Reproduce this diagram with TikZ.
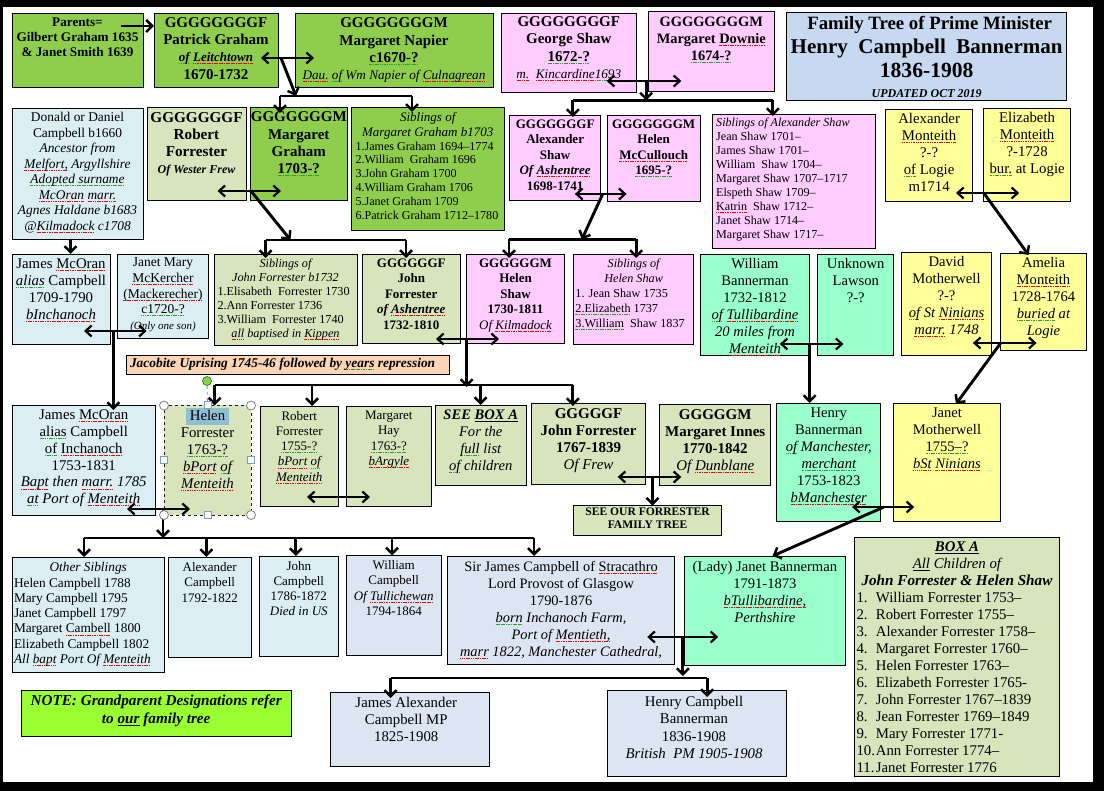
\documentclass[tikz,border=0pt]{standalone}
\usepackage{fontspec}
\setmainfont{Liberation Serif}
\usetikzlibrary{arrows.meta}
\definecolor{cgreen}{HTML}{8FCE4C}
\definecolor{cpink}{HTML}{FFCCFF}
\definecolor{ctitle}{HTML}{C6D9F1}
\definecolor{csky}{HTML}{DAEEF3}
\definecolor{cslate}{HTML}{DCE6F2}
\definecolor{colive}{HTML}{D8E4BC}
\definecolor{caqua}{HTML}{99FFCC}
\definecolor{cyell}{HTML}{FFFF99}
\definecolor{cpeach}{HTML}{FBD5B5}
\definecolor{clime}{HTML}{99FF33}
\definecolor{csel}{HTML}{8FBFD0}
\definecolor{cspg}{HTML}{2E9E2E}
\definecolor{chand}{HTML}{7F9DB9}
\newsavebox\sqbox
\newcommand\sqmark[2]{\begingroup\sbox\sqbox{#2}\leavevmode\rlap{\raisebox{-2.4pt}{\textcolor{#1}{\hbox to\wd\sqbox{\xleaders\hbox{\rule{1.2pt}{.75pt}\kern.5pt}\hfill}}}}\usebox\sqbox\endgroup}
\newcommand\rsq[1]{\sqmark{red}{#1}}
\newcommand\gsq[1]{\sqmark{cspg}{#1}}
\newcommand\ulin[1]{\begingroup\sbox\sqbox{#1}\leavevmode\rlap{\rule[-1.8pt]{\wd\sqbox}{.8pt}}\usebox\sqbox\endgroup}
\newcommand\fs[2]{\fontsize{#1}{#2}\selectfont}
\newcommand\famb[8]{\node[famnode,#6] (#1) at ({(#2+#4)/2},{(#3+#5)/2}) {\parbox[c][\dimexpr #5pt-#3pt\relax][t]{\dimexpr #4pt-#2pt\relax}{\vspace*{#7pt}\centering #8}};}
\newcommand\lft[1]{\raggedright\leftskip=#1pt\relax}
\newcommand\nm[1]{\makebox[19.4pt][l]{#1}}
\tikzset{
 famnode/.style={draw=black,line width=.9pt,inner sep=0pt,outer sep=0pt},
 fgreen/.style={fill=cgreen}, fpink/.style={fill=cpink}, ftitle/.style={fill=ctitle},
 fsky/.style={fill=csky}, fslate/.style={fill=cslate}, folive/.style={fill=colive},
 faqua/.style={fill=caqua}, fyell/.style={fill=cyell}, fpeach/.style={fill=cpeach}, flime/.style={fill=clime},
 link/.style={line width=2.9pt,draw=black},
 tip/.style={link,-{Straight Barb[length=6pt,width=12pt,line width=2.5pt]}},
 both/.style={link,line width=2.2pt,{Straight Barb[length=6pt,width=11pt,line width=2.2pt]}-{Straight Barb[length=6pt,width=11pt,line width=2.2pt]}},
 cornerh/.style={circle,draw=gray,fill=white,line width=.8pt,minimum size=9pt,inner sep=0pt},
 edgeh/.style={rectangle,draw=chand,fill=white!92!chand,line width=1pt,minimum size=7pt,inner sep=0pt},
 rothandle/.style={circle,draw=green!50!black,fill=cgreen,line width=.6pt,minimum size=9pt,inner sep=0pt}
}
\begin{document}
\begin{tikzpicture}[x=1pt,y=-1pt]
\fill[black] (0,0) rectangle (1104,791);
\fill[white] (3,7) rectangle (1093,782);
% --- row 1
\famb{parents}{12}{13}{143}{87}{fgreen}{4.5}{\fs{13.2}{15}\bfseries Parents=\\Gilbert Graham 1635\\\& Janet Smith 1639}
\famb{patrick}{154}{13}{278}{87}{fgreen}{4.3}{\fs{15}{17.3}\bfseries GGGGGGGGF\\Patrick Graham\\{\itshape\fs{13}{16}\gsq{of} \rsq{Leitchtown}}\\1670-1732}
\famb{napier}{295}{13}{493}{87}{fgreen}{5}{\fs{15}{17.3}\bfseries GGGGGGGGM\\Margaret Napier\\\gsq{c1670-?}\\{\mdseries\itshape\fs{13.2}{15}\rsq{Dau.} \gsq{of} Wm Napier of \rsq{Culnagrean}}}
\famb{george}{501}{13}{636.6}{92}{fpink}{3.5}{\fs{15}{17.3}\bfseries GGGGGGGGF\\George Shaw\\\gsq{1672-?}\\{\mdseries\itshape\fs{13.2}{15}\rsq{m.} \ \rsq{Kincardine}\gsq{1693}}}
\famb{downie}{648.5}{11}{774}{91}{fpink}{5.5}{\fs{14.4}{17.3}\bfseries GGGGGGGGM\\Margaret \rsq{Downie}\\\gsq{1674-?}}
\famb{title}{786.8}{12}{1066.5}{100}{ftitle}{4}{\bfseries\fs{18.8}{25}\hspace*{6pt}Family Tree of Prime Minister\\\fs{21}{24}Henry \ Campbell \ Bannerman\hspace*{6pt}\\\fs{21.6}{24.5}1836-1908\\\fs{12}{20}\itshape UPDATED OCT 2019}
% --- row 2
\famb{donald}{12}{108}{143}{239}{fsky}{4.5}{\fs{13.4}{15.5}Donald or Daniel\\Campbell b1660\\{\itshape Ancestor from\\\rsq{Melfort,} Argyllshire\\\gsq{Adopted surname}\\\rsq{McOran} \rsq{marr.}\\Agnes Haldane b1683\\@\rsq{Kilmadock} c1708}}
\famb{robert}{147}{107}{246}{200}{folive}{5}{\fs{15.2}{17.2}\bfseries GGGGGGGF\\Robert\\Forrester\\{\fs{12}{14.5}\itshape Of Wester Frew}}
\famb{mgraham}{250.5}{107}{347}{200}{fgreen}{5}{\fs{15}{17.2}\bfseries\makebox[\linewidth]{GGGGGGGM}\\Margaret\\Graham\\\gsq{1703-?}}
\famb{sibmg}{351.5}{107}{504}{230}{fgreen}{5}{\fs{13}{15}{\itshape Siblings of\\Margaret Graham b1703\par}\lft{4}\fs{12.1}{13.9}1.James Graham 1694–1774\\2.William \ Graham 1696\\3.John Graham 1700\\4.William Graham 1706\\5.Janet Graham 1709\\6.Patrick Graham 1712–1780}
\famb{ashaw}{509.5}{115}{600.8}{200}{fpink}{4.5}{\fs{13}{15.5}\bfseries GGGGGGGF\\Alexander\\Shaw\\{\itshape Of \rsq{Ashentree}}\\1698-1741}
\famb{hmcc}{607.2}{115}{700.2}{201}{fpink}{4.5}{\fs{13}{15.5}\bfseries GGGGGGGM\\Helen\\\rsq{McCullouch}\\\gsq{1695-?}}
\famb{sibas}{712.2}{114}{875.4}{248}{fpink}{3.5}{\lft{4}\fs{12.1}{14}{\itshape Siblings of Alexander Shaw}\\Jean Shaw 1701–\\James Shaw 1701–\\William \ Shaw 1704–\\Margaret Shaw 1707–1717\\Elspeth Shaw 1709–\\\rsq{Katrin} \ Shaw 1712–\\Janet Shaw 1714–\\Margaret Shaw 1717–}
\famb{amont}{885.3}{109}{972.9}{201}{fyell}{4.5}{\fs{14.8}{17}Alexander\\\rsq{Monteith}\\?-?\\\gsq{of} Logie\\m1714}
\famb{emont}{983.8}{108}{1070.4}{201}{fyell}{4.5}{\fs{14.8}{17}Elizabeth\\\rsq{Monteith}\\?-1728\\\gsq{bur.} at Logie}
% --- row 3
\famb{jmcoran}{12}{254}{110}{344}{fsky}{5}{\fs{14.8}{17}James \rsq{McOran}\\{\itshape\gsq{alias}} Campbell\\1709-1790\\{\itshape\rsq{bInchanoch}}}
\famb{jmary}{117.5}{254}{208.5}{338}{fsky}{4}{\fs{13.5}{15.6}Janet Mary\\\rsq{McKercher}\\\rsq{(Mackerecher)}\\\gsq{c1720-?}\\{\itshape\fs{11}{15}(Only one son)}}
\famb{sibjf}{214}{254}{357}{345}{folive}{4.5}{\fs{12.2}{14}{\itshape Siblings of\\John Forrester b1732\par}{\lft{3.5}1.Elisabeth \ Forrester 1730\\2.Ann Forrester 1736\\3.William \ Forrester 1740\par}{\itshape\rsq{all} baptised in \rsq{Kippen}}}
\famb{jforr}{362.5}{254}{460}{343}{folive}{4.5}{\fs{13}{15.5}\bfseries GGGGGGF\\John\\Forrester\\{\itshape of \rsq{Ashentree}}\\1732-1810}
\famb{hshaw}{466.5}{254}{564.5}{343}{fpink}{4.5}{\fs{13}{15.5}\bfseries GGGGGGM\\Helen\\Shaw\\1730-1811\\{\mdseries\itshape Of \rsq{Kilmadock}}}
\famb{sibhs}{573.4}{254}{693.8}{344}{fpink}{4.5}{\fs{12.2}{15}{\itshape Siblings of\\Helen Shaw\par}\lft{2}1. Jean Shaw 1735\\\gsq{2.Elizabeth} 1737\\\gsq{3.William} \ Shaw 1837}
\famb{wbann}{700.2}{254}{809.7}{355}{faqua}{4}{\fs{14.6}{17}William\\Bannerman\\1732-1812\\{\itshape\gsq{of} \rsq{Tullibardine}\\20 miles from\\\rsq{Menteith}}}
\famb{unknown}{817.7}{254}{893.8}{355}{faqua}{4}{\fs{14.6}{17}Unknown\\Lawson\\?-?}
\famb{david}{901.2}{252}{991.8}{355}{fyell}{4.5}{\fs{14.6}{17}David\\Motherwell\\?-?\\{\itshape\gsq{of} St \rsq{Ninians}\\\rsq{marr.} 1748}}
\famb{amelia}{1000.7}{253.5}{1086.3}{350}{fyell}{3.5}{\fs{14.6}{17}Amelia\\\rsq{Monteith}\\1728-1764\\{\itshape\gsq{buried} at\\Logie}}
\famb{jacob}{126}{355}{449}{374}{fpeach}{2.8}{\lft{4}\fs{13.4}{14}\bfseries\itshape Jacobite Uprising 1745-46 followed by \gsq{years} repression}
% --- row 4
\famb{jinch}{12}{405}{155.5}{515}{fsky}{5}{\fs{14.8}{16.8}James \rsq{McOran}\\\gsq{alias} Campbell\\\gsq{of} \rsq{Inchanoch}\\1753-1831\\{\itshape \rsq{Bapt} then \rsq{marr.} 1785\\\gsq{at} Port of \rsq{Menteith}}}
\famb{hforr}{164}{405.5}{251}{515}{folive,dashed,draw=black!80!chand}{3.4}{\fs{14.8}{17}\smash{\fboxsep=0pt\colorbox{csel}{\rule[-4pt]{0pt}{16.7pt}\makebox[43.6pt]{Helen}}}\strut\\Forrester\\\gsq{1763-?}\\{\itshape\rsq{bPort} \gsq{of}\\\rsq{Menteith}}}
\famb{rforr}{260}{406}{338.5}{506}{folive}{5}{\fs{13}{15.3}Robert\\Forrester\\\gsq{1755-?}\\{\itshape\rsq{bPort} \gsq{of}\\\rsq{Menteith}}}
\famb{mhay}{346.7}{406}{431}{506}{folive}{5}{\fs{13}{15.3}Margaret\\Hay\\\gsq{1763-?}\\{\itshape\rsq{bArgyle}}}
\famb{seea}{435.5}{405}{526}{485}{folive}{5}{\fs{14.6}{16.8}\itshape{\bfseries SEE \ulin{BOX A}}\\For the\\\gsq{full} list\\\gsq{of} children}
\famb{john2}{531.5}{403}{645.5}{484}{folive}{6}{\fs{15}{16.8}\bfseries GGGGGF\\John Forrester\\1767-1839\\{\mdseries\itshape Of Frew}}
\famb{innes}{659.5}{404}{770.9}{485}{folive}{6}{\fs{15}{16.8}\bfseries GGGGGM\\Margaret Innes\\1770-1842\\{\mdseries\itshape Of \rsq{Dunblane}}}
\famb{hbann}{776.9}{403}{880.7}{521}{faqua}{5}{\fs{14.6}{17}Henry\\Bannerman\\{\itshape\gsq{of} Manchester,\\\gsq{merchant}\par}1753-1823\\{\itshape\rsq{bManchester}}}
\famb{jmoth}{893.3}{403}{1000.7}{521}{fyell}{5}{\fs{14.6}{17}Janet\\Motherwell\\\gsq{1755–?}\\{\itshape\rsq{bSt} \rsq{Ninians}}}
\famb{seeour}{573.4}{505.7}{721.7}{535}{folive}{2.5}{\fs{11.6}{13}\bfseries SEE OUR FORRESTER\\FAMILY TREE}
% --- row 5
\famb{others}{12}{557}{164.5}{672}{fsky}{5.5}{\fs{13.3}{15.3}{\itshape Other Siblings\par}\lft{2}Helen Campbell 1788\\Mary Campbell 1795\\Janet Campbell 1797\\Margaret \rsq{Cambell} 1800\\Elizabeth Campbell 1802\\{\itshape All \rsq{bapt} Port Of \rsq{Menteith}}}
\famb{alexc}{168.4}{557}{251}{657}{fsky}{5.5}{\fs{13}{15.3}Alexander\\Campbell\\1792-1822}
\famb{johnc}{259}{556}{338.6}{656}{fsky}{5}{\fs{13}{15.3}John\\Campbell\\1786-1872\\{\itshape Died in US}}
\famb{willc}{346}{555.5}{441.4}{655.5}{fslate}{5}{\fs{13}{15.3}William\\Campbell\\{\itshape Of \rsq{Tullichewan}}\\1794-1864}
\famb{sirj}{447.7}{556}{674.4}{664.7}{fslate}{5}{\fs{14.4}{17}Sir James Campbell of \rsq{Stracathro}\\Lord Provost of Glasgow\\1790-1876\\{\itshape\gsq{born} Inchanoch Farm,\\Port of \rsq{Mentieth,}\\\rsq{marr} 1822, Manchester Cathedral,}}
\famb{lady}{684.3}{556}{845.5}{665}{faqua}{5}{\fs{14.6}{17}(Lady) Janet Bannerman\\1791-1873\\{\itshape\rsq{bTullibardine,}\\Perthshire}}
\famb{note}{21.4}{690}{291}{736}{flime}{4.5}{\fs{15.2}{18.7}\bfseries\itshape NOTE: Grandparent Designations refer\\to \ulin{our} family tree}
\famb{jamesa}{330.5}{692}{489}{766}{fslate}{5}{\fs{14.8}{17}\hspace*{-7pt}James Alexander\\\hspace*{-7pt}Campbell MP\\\hspace*{-7pt}1825-1908}
\famb{henryc}{607.2}{690}{786.8}{776}{fslate}{6}{\fs{14.8}{17.4}\hspace*{-6pt}Henry Campbell\\\hspace*{-6pt}Bannerman\\\hspace*{-6pt}1836-1908\\{\itshape\hspace*{-6pt}British \ PM 1905-1908}}
\famb{boxa}{854.5}{537}{1059.4}{776}{folive}{5}{\fs{14.8}{17}{\bfseries\itshape\ulin{BOX A}\\}{\itshape\ulin{All} Children of\\}{\fs{15.2}{17}\bfseries\itshape John Forrester \& Helen Shaw\par}\lft{2}\nm{1.}William Forrester 1753–\\\nm{2.}Robert Forrester 1755–\\\nm{3.}Alexander Forrester 1758–\\\nm{4.}Margaret Forrester 1760–\\\nm{5.}Helen Forrester 1763–\\\nm{6.}Elizabeth Forrester 1765-\\\nm{7.}John Forrester 1767–1839\\\nm{8.}Jean Forrester 1769–1849\\\nm{9.}Mary Forrester 1771-\\\nm{10.}Ann Forrester 1774–\\\nm{11.}Janet Forrester 1776}
% --- junction coordinates
\coordinate (pStart) at (121,26);
\coordinate (pg1) at (261,58); \coordinate (pg2) at (314,58); \coordinate (pg0) at (281,58);
\coordinate (pg3) at (296,96); \coordinate (pg4) at (280,96); \coordinate (pg5) at (412,96);
\coordinate (rf1) at (217.5,191); \coordinate (rf2) at (281,191); \coordinate (rf0) at (251,191);
\coordinate (rf3) at (290.5,240); \coordinate (rf4) at (265.6,240); \coordinate (rf5) at (406,240);
\coordinate (ss1) at (606.7,81); \coordinate (ss2) at (681.3,81); \coordinate (ss0) at (646.1,81);
\coordinate (ss3) at (646.1,100.5); \coordinate (ss4) at (572.9,100.5); \coordinate (ss5) at (772.9,100.5);
\coordinate (ah1) at (574.9,194); \coordinate (ah2) at (626.6,194); \coordinate (ah0) at (602.7,194);
\coordinate (ah3) at (581.8,239.5); \coordinate (ah4) at (509,239.5); \coordinate (ah5) at (636.2,239.5);
\coordinate (am1) at (956,193); \coordinate (am2) at (1019.2,193); \coordinate (am0) at (983.8,193);
\coordinate (am3) at (1028.6,255);
\coordinate (don0) at (70.5,239);
\coordinate (jm1) at (84,331); \coordinate (jm2) at (146.7,331); \coordinate (jm0) at (113.3,331);
\coordinate (jh1) at (436,339); \coordinate (jh2) at (499,339); \coordinate (jh0) at (466.7,339);
\coordinate (jh3) at (466.7,387); \coordinate (jh4) at (214.7,385); \coordinate (jh5) at (572.9,385);
\coordinate (jh6) at (312,385); \coordinate (jh7) at (480.7,385);
\coordinate (ji1) at (617.7,477); \coordinate (ji2) at (681.3,477); \coordinate (ji0) at (652.5,477);
\coordinate (rm1) at (307,497); \coordinate (rm2) at (370,497);
\coordinate (jf1) at (127,509); \coordinate (jf2) at (190,509); \coordinate (jf0) at (163,509);
\coordinate (jf3) at (163,538); \coordinate (jf4) at (84,538); \coordinate (jf5) at (534,538);
\coordinate (jf6) at (206.3,538); \coordinate (jf7) at (295.8,538); \coordinate (jf8) at (392,538);
\coordinate (wb1) at (779.8,344); \coordinate (wb2) at (843.5,344); \coordinate (wb0) at (809.7,344);
\coordinate (dm1) at (972.9,343); \coordinate (dm2) at (1036.6,343); \coordinate (dm0) at (1000.7,343);
\coordinate (dm3) at (956,404);
\coordinate (hj1) at (852.1,507); \coordinate (hj2) at (914.2,507); \coordinate (hj0) at (883.9,507);
\coordinate (hj3) at (772.6,556);
\coordinate (sl1) at (647.2,637); \coordinate (sl2) at (718.2,637); \coordinate (sl0) at (682.8,637);
\coordinate (sl3) at (682.8,676); \coordinate (sl4) at (390.5,678); \coordinate (sl5) at (707.2,678);
% --- connectors
\draw[tip] (pStart) -- (pStart -| patrick.west);
\draw[both] (pg1) -- (pg2);
\draw[tip] (pg0) -- (pg3);
\draw[link] (pg4) -- (pg5);
\draw[tip,shorten >=-6pt] (pg4) -- (pg4 |- mgraham.north);
\draw[tip,shorten >=-5pt] (pg5) -- (pg5 |- sibmg.north);
\draw[both] (rf1) -- (rf2);
\draw[tip] (rf0) -- (rf3);
\draw[link] (rf4) -- (rf5);
\draw[tip,shorten >=-4pt] (rf4) -- (rf4 |- sibjf.north);
\draw[tip,shorten >=-4pt] (rf5) -- (rf5 |- jforr.north);
\draw[tip] (don0) -- (don0 |- jmcoran.north);
\draw[both] (ss1) -- (ss2);
\draw[tip] (ss0) -- (ss3);
\draw[link] (ss4) -- (ss5);
\draw[tip,shorten >=-2pt] (ss4) -- (ss4 |- ashaw.north);
\draw[tip,shorten >=-2pt] (ss5) -- (ss5 |- sibas.north);
\draw[both] (ah1) -- (ah2);
\draw[tip] (ah0) -- (ah3);
\draw[link] (ah4) -- (ah5);
\draw[tip,shorten >=-4pt] (ah4) -- (ah4 |- hshaw.north);
\draw[tip,shorten >=-4pt] (ah5) -- (ah5 |- sibhs.north);
\draw[both] (am1) -- (am2);
\draw[tip] (am0) -- (am3);
\draw[both] (jm1) -- (jm2);
\draw[tip,shorten >=-5pt] (jm0) -- (jm0 |- jinch.north);
\draw[both] (jh1) -- (jh2);
\draw[tip] (jh0) -- (jh3);
\draw[link] (jh4) -- (jh5);
\draw[tip] (jh4) -- (jh4 |- hforr.north);
\draw[tip] (jh6) -- (jh6 |- rforr.north);
\draw[tip] (jh7) -- (jh7 |- seea.north);
\draw[tip,shorten >=-3pt] (jh5) -- (jh5 |- john2.north);
\draw[both] (ji1) -- (ji2);
\draw[tip] (ji0) -- (ji0 |- seeour.north);
\draw[both] (rm1) -- (rm2);
\draw[both] (jf1) -- (jf2);
\draw[tip] (jf0) -- (jf3);
\draw[link] (jf4) -- (jf5);
\draw[tip] (jf4) -- (jf4 |- others.north);
\draw[tip] (jf6) -- (jf6 |- alexc.north);
\draw[tip] (jf7) -- (jf7 |- johnc.north);
\draw[tip] (jf8) -- (jf8 |- willc.north);
\draw[tip] (jf5) -- (jf5 |- sirj.north);
\draw[both] (wb1) -- (wb2);
\draw[tip] (wb0) -- (wb0 |- hbann.north);
\draw[both] (dm1) -- (dm2);
\draw[tip] (dm0) -- (dm3);
\draw[both] (hj1) -- (hj2);
\draw[tip] (hj0) -- (hj3);
\draw[both] (sl1) -- (sl2);
\draw[tip] (sl0) -- (sl3);
\draw[link] (sl4) -- (sl5);
\draw[tip,shorten >=-6pt] (sl4) -- (sl4 |- jamesa.north);
\draw[tip,shorten >=-7pt] (sl5) -- (sl5 |- henryc.north);
% --- selection handles on the Helen Forrester box
\node[edgeh] (hT) at (hforr.north) {};
\node[edgeh] (hB) at (hforr.south) {};
\node[edgeh] (hL) at (hforr.west) {};
\node[edgeh] (hR) at (hforr.east) {};
\node[cornerh] (hNW) at (hforr.north west) {};
\node[cornerh] (hNE) at (hforr.north east) {};
\node[cornerh] (hSW) at (hforr.south west) {};
\node[cornerh] (hSE) at (hforr.south east) {};
\node[rothandle] (hRot) at (207,381) {};
\draw[chand,dashed,line width=.8pt] (hRot) -- (hT);
\end{tikzpicture}
\end{document}
